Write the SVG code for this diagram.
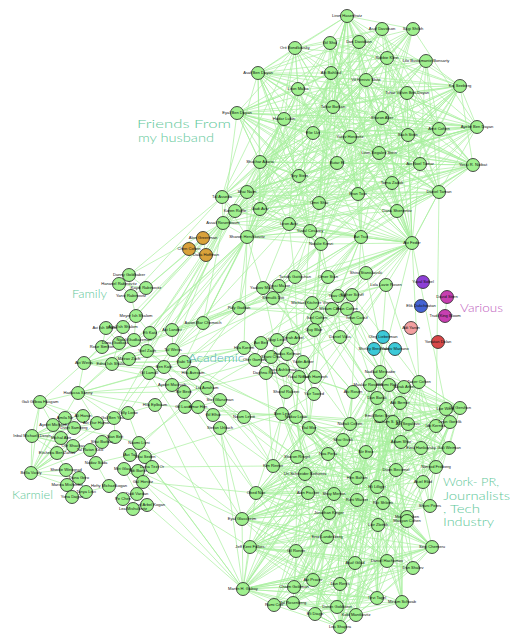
<svg xmlns="http://www.w3.org/2000/svg" width="518" height="640" viewBox="0 0 518 640">
<style>
.e{fill:none;stroke:#a8ef9e;stroke-width:.7;stroke-linecap:round}
.n circle{fill:#9ff08e;stroke:#222;stroke-width:.8}
.n text{font-family:"Liberation Sans",Arial,sans-serif;font-size:4.1px;text-anchor:middle;fill:#111}
.co circle{fill:#d9a23a}
.cp circle{fill:#8e3fd6}
.cm circle{fill:#c73fb0}
.cb circle{fill:#4464d4}
.ck circle{fill:#f2a0a0}
.cr circle{fill:#d84848}
.cc circle{fill:#3cc9d8}
.lbl{font-family:Lato,"DejaVu Sans",sans-serif;font-weight:300;font-size:12px;fill:#62c89a}
</style>
<rect width="518" height="640" fill="#fff"/>
<g id="connectors" class="e">
<path d="M347 16L333 107L358 194L330 43L382 118L412 243L387 58L408 135L299 176L331 73L379 153L319 203L407 93L392 183L223 223L237 113L397 211L321 244L439 129L260 162L382 29L313 133L247 192L359 42L420 164L235 211L426 61L439 192L289 224L366 80L361 237L247 237L298 89L337 163L413 29L284 119L222 197L295 48L477 127L260 209L258 73L350 137L310 231L460 86L473 165L347 16"/>
<path d="M347 16L258 73L284 119L420 164L260 162L223 223L330 43L460 86L477 127L439 192L247 192L321 244L387 58L333 107L350 137L361 237L235 211L382 29L331 73L382 118L473 165L337 163L289 224L359 42L407 93L408 135L358 194L222 197L247 237L426 61L237 113L379 153L412 243L260 209L413 29L366 80L439 129L392 183L299 176L310 231L295 48L298 89L313 133L397 211L319 203L347 16"/>
<path d="M347 16L477 127L235 211L407 93L412 243L295 48L420 164L321 244L382 118L222 197L366 80L397 211L330 43L350 137L289 224L237 113L299 176L258 73L439 192L382 29L408 135L260 209L298 89L260 162L387 58L473 165L247 237L439 129L319 203L460 86L361 237L359 42L379 153L310 231L284 119L247 192L331 73L358 194L413 29L313 133L223 223L333 107L337 163L426 61L392 183L347 16"/>
<path d="M347 16L359 42L258 73L407 93L284 119L408 135L420 164L358 194L260 162L222 197L223 223L247 237L330 43L426 61L460 86L237 113L477 127L379 153L439 192L412 243L247 192L260 209L321 244L413 29L387 58L366 80L333 107L439 129L350 137L392 183L361 237L299 176L235 211L310 231L382 29L295 48L331 73L298 89L382 118L313 133L473 165L397 211L337 163L319 203L289 224L347 16"/>
<path d="M347 16L460 86L350 137L337 163L247 237L366 80L313 133L260 162L321 244L331 73L408 135L412 243L310 231L258 73L477 127L361 237L289 224L426 61L439 129L397 211L223 223L387 58L382 118L358 194L260 209L295 48L284 119L439 192L235 211L359 42L237 113L392 183L319 203L330 43L333 107L473 165L222 197L413 29L298 89L420 164L247 192L382 29L407 93L379 153L299 176L347 16"/>
<path d="M347 16L413 29L359 42L387 58L258 73L366 80L407 93L333 107L284 119L439 129L408 135L350 137L420 164L392 183L358 194L361 237L260 162L299 176L222 197L235 211L223 223L310 231L247 237L382 29L330 43L295 48L426 61L331 73L460 86L298 89L237 113L382 118L477 127L313 133L379 153L473 165L439 192L397 211L412 243L337 163L247 192L319 203L260 209L289 224L321 244L347 16"/>
<path d="M347 16L382 118L299 176L387 58L379 153L223 223L407 93L397 211L382 29L439 129L247 192L426 61L420 164L289 224L298 89L361 237L413 29L477 127L222 197L258 73L473 165L310 231L333 107L412 243L330 43L408 135L319 203L331 73L392 183L321 244L237 113L260 162L359 42L313 133L235 211L366 80L439 192L247 237L284 119L337 163L295 48L350 137L260 209L460 86L358 194L347 16"/>
<path d="M237 113L295 48M237 113L331 73M237 113L298 89M237 113L333 107M237 113L313 133M237 113L350 137M237 113L337 163M237 113L299 176M237 113L319 203M237 113L358 194M237 113L379 153M237 113L382 118"/>
<path d="M477 127L407 93M477 127L366 80M477 127L382 118M477 127L408 135M477 127L350 137M477 127L379 153M477 127L392 183M477 127L358 194M477 127L337 163M477 127L313 133M477 127L397 211M477 127L333 107"/>
<path d="M460 86L387 58M460 86L366 80M460 86L407 93M460 86L382 118M460 86L408 135M460 86L379 153M460 86L350 137M460 86L333 107M460 86L392 183M460 86L420 164M460 86L439 129M460 86L358 194"/>
<path d="M473 165L407 93M473 165L382 118M473 165L408 135M473 165L379 153M473 165L392 183M473 165L358 194M473 165L397 211M473 165L361 237M473 165L350 137M473 165L366 80M473 165L337 163M473 165L319 203"/>
<path d="M412 243L392 183M412 243L358 194M412 243L397 211M412 243L379 153M412 243L337 163M412 243L319 203M412 243L361 237M412 243L350 137M412 243L382 118M412 243L408 135M412 243L420 164M412 243L439 192M412 243L299 176M412 243L310 231M412 243L321 244M412 243L289 224"/>
<path d="M347 16L295 48M347 16L331 73M347 16L298 89M347 16L333 107M347 16L366 80M347 16L407 93M347 16L387 58M347 16L313 133M347 16L350 137M347 16L382 118"/>
<path d="M258 73L298 89M258 73L331 73M258 73L333 107M258 73L313 133M258 73L284 119M258 73L350 137M258 73L299 176M258 73L260 162M258 73L366 80M258 73L330 43M258 73L295 48"/>
<path d="M439 192L439 129M439 192L420 164M439 192L408 135M439 192L392 183M439 192L379 153M439 192L397 211M439 192L358 194M439 192L361 237M439 192L350 137M439 192L382 118M439 192L407 93"/>
<path d="M247 237L260 209M247 237L289 224M247 237L319 203M247 237L299 176M247 237L260 162M247 237L247 192M247 237L310 231M247 237L321 244M247 237L358 194M247 237L337 163"/>
<path d="M260 162L284 119M260 162L313 133M260 162L299 176M260 162L298 89M260 162L350 137M260 162L333 107M260 162L337 163M260 162L247 192M260 162L260 209M260 162L319 203"/>
<path d="M412 243L366 273M412 243L386 285M412 243L328 277M412 243L295 277M412 243L312 303M412 243L352 295M412 243L347 309M412 243L317 318M412 243L340 337M412 243L244 348M412 243L239 308M412 243L203 323M412 243L173 350M412 243L172 330M412 243L446 409M412 243L419 382M412 243L380 372"/>
<path d="M361 237L295 277M361 237L328 277M361 237L366 273M361 237L279 286M361 237L312 303M361 237L338 296M361 237L332 309M361 237L293 338M361 237L261 343M361 237L184 362M361 237L350 424"/>
<path d="M321 244L295 277M321 244L328 277M321 244L263 288M321 244L279 286M321 244L273 298M321 244L312 303M321 244L314 330M321 244L309 428M310 231L295 277M310 231L328 277M310 231L273 298M310 231L296 417M289 224L263 288M289 224L295 277"/>
<path d="M247 237L263 288M247 237L239 308M247 237L203 323M247 237L172 330M247 237L173 350M247 237L150 333M247 237L244 348M247 237L128 413M247 237L78 393M223 223L203 323M223 223L172 330M223 223L146 288M223 223L129 275M223 223L136 316M223 223L173 350M223 223L114 418M223 223L84 363"/>
<path d="M235 211L172 330M235 211L150 333M235 211L147 351M260 209L203 323M260 209L184 362M260 209L239 308M222 197L129 275M222 197L131 296M247 192L136 316M247 192L172 330M439 192L436 426"/>
<path d="M134 340L247 237M150 333L223 223M147 351L247 237M173 350L289 224M184 362L321 244M146 288L235 211"/>
<path d="M295 277L239 308L357 318L271 357L315 377L386 285L352 295L293 338L255 360L353 392L273 298L317 318L244 348L299 377L366 273L338 296L340 337L303 362L314 394L279 286L347 309L261 343L283 370L328 277L312 303L314 330L287 354L286 392L263 288L332 309L277 340L266 373L295 277"/>
<path d="M295 277L279 286L352 295L314 330L244 348L266 373L314 394L386 285L312 303L317 318L277 340L303 362L315 377L328 277L273 298L332 309L340 337L271 357L283 370L353 392L263 288L338 296L357 318L261 343L255 360L286 392L366 273L239 308L347 309L293 338L287 354L299 377L295 277"/>
<path d="M312 303L380 372M312 303L370 385M332 309L389 385M347 309L377 398M317 318L380 416M357 318L380 372M357 318L404 387M340 337L370 385M340 337L377 398M314 330L350 424M352 295L419 382M338 296L400 403M303 362L309 428M299 377L296 417M315 377L350 424M314 394L282 414M314 394L309 428M286 392L282 414M266 373L273 466M271 357L297 457M287 354L305 474M283 370L328 454M386 285L380 372M386 285L419 382M366 273L389 385M353 392L400 403M353 392L380 416M353 392L350 424M353 392L343 440"/>
<path d="M129 275L119 284M129 275L146 288M119 284L131 296M146 288L131 296M129 275L131 296M119 284L146 288M131 296L136 316M136 316L123 327M136 316L150 333M106 328L123 327M106 328L102 347M123 327L119 343M123 327L134 340M150 333L134 340M150 333L147 351M119 343L134 340M134 340L147 351M102 347L119 343M102 347L84 363M119 343L112 364M112 364L129 359M129 359L147 351M84 363L112 364M136 316L134 340M106 328L119 343"/>
<path d="M172 330L173 350M173 350L184 362M173 350L164 367M184 362L193 373M164 367L149 373M149 373L172 385M193 373L207 388M172 385L184 392M207 388L184 392M184 392L185 407M185 407L198 407M198 407L213 415M155 405L185 407M155 405L172 385M184 362L164 367M172 330L150 333M173 350L147 351M203 323L172 330M203 323L173 350M164 367L147 351M220 400L207 388M220 400L198 407M220 400L244 417"/>
<path d="M84 363L147 351M84 363L173 350M84 363L184 362M84 363L164 367M84 363L193 373M84 363L244 348M84 363L239 308M84 363L203 323M84 363L255 360M84 363L207 388"/>
<path d="M78 393L84 363M78 393L112 364M78 393L149 373M78 393L172 385M78 393L184 392M78 393L155 405M78 393L128 413M78 393L114 418M78 393L97 423M78 393L244 348M40 402L78 393M40 402L65 418M40 402L53 425M40 402L32 436M40 402L83 416M40 402L84 363"/>
<path d="M184 362L244 348M193 373L261 343M207 388L255 360M184 392L266 373M172 385L271 357M193 373L239 308M173 350L239 308M172 330L239 308M203 323L239 308M203 323L263 288M172 330L263 288"/>
<path d="M173 350L273 466M147 351L297 457M164 367L256 493M149 373L242 519M184 362L282 414M193 373L296 417M134 340L305 474"/>
<path d="M31 473L32 436M31 473L53 425M31 473L61 438M31 473L65 418M31 473L74 428M31 473L73 446M31 473L57 453M31 473L90 450M31 473L83 416M31 473L97 423M31 473L114 418M31 473L66 470M31 473L67 485M31 473L79 478M31 473L78 393M31 473L40 402"/>
<path d="M32 436L53 425M32 436L61 438M32 436L65 418M32 436L74 428M32 436L73 446M32 436L57 453M32 436L83 416M32 436L97 423M32 436L90 450"/>
<path d="M65 418L83 416M83 416L97 423M97 423L114 418M114 418L128 413M53 425L74 428M61 438L73 446M74 428L115 437M115 437L102 442M102 442L90 450M73 446L90 450M90 450L96 463M57 453L66 470M96 463L130 455M139 443L130 455M130 455L145 457M139 443L145 457M124 469L138 471M138 471L152 467M124 469L143 482M138 471L143 482M152 467L143 482M66 470L79 478M79 478L67 485M67 485L72 497M86 492L72 497M79 478L86 492M86 492L109 486M109 486L123 499M137 494L123 499M137 494L147 505M123 499L133 509M147 505L133 509M137 494L133 509M96 463L109 486M115 437L139 443M128 413L139 443M114 418L115 437M145 457L152 467M124 469L137 494M143 482L137 494"/>
<path d="M128 413L155 405M114 418L149 373M139 443L185 407M145 457L282 414M152 467L273 466M143 482L256 493M139 443L242 519M124 469L250 547M138 471L242 519M130 455L244 348"/>
<path d="M400 403L380 416L436 467L282 414L334 494L432 547L315 614L380 372L393 422L396 470L296 417L329 513L387 561L337 607L370 385L408 424L357 478L309 428L242 519L413 568L356 615L389 385L436 426L377 487L297 457L378 525L313 580L340 627L404 387L450 422L423 482L328 454L407 521L340 584L377 598L419 382L350 424L357 500L273 466L327 537L294 587L402 602L377 398L401 442L383 503L305 474L250 547L243 589L343 440L446 409L421 448L430 506L256 493L296 551L274 605L366 452L460 408L449 448L407 517L308 493L355 563L293 603L400 403"/>
<path d="M400 403L419 382L393 422L401 442L357 478L430 506L297 457L308 493L407 521L432 547L294 587L337 607L343 440L389 385L460 408L450 422L436 467L357 500L296 417L305 474L242 519L296 551L313 580L293 603L377 598L380 372L377 398L408 424L421 448L377 487L407 517L328 454L334 494L327 537L387 561L243 589L356 615L366 452L404 387L380 416L350 424L396 470L383 503L309 428L256 493L378 525L355 563L340 584L315 614L402 602L370 385L446 409L436 426L449 448L423 482L282 414L273 466L329 513L250 547L413 568L274 605L340 627L400 403"/>
<path d="M400 403L450 422L407 517L378 525L274 605L389 385L421 448L309 428L250 547L337 607L377 398L396 470L273 466L432 547L377 598L380 416L423 482L308 493L313 580L366 452L436 426L430 506L242 519L243 589L370 385L401 442L296 417L327 537L315 614L419 382L436 467L328 454L355 563L340 627L460 408L377 487L256 493L413 568L343 440L408 424L383 503L329 513L294 587L380 372L350 424L282 414L407 521L293 603L404 387L449 448L297 457L296 551L356 615L446 409L357 478L305 474L387 561L402 602L393 422L357 500L334 494L340 584L400 403"/>
<path d="M400 403L389 385L377 398L380 416L436 426L401 442L436 467L377 487L383 503L282 414L297 457L305 474L334 494L378 525L250 547L432 547L313 580L243 589L315 614L340 627L343 440L380 372L404 387L446 409L393 422L450 422L421 448L396 470L423 482L430 506L296 417L328 454L256 493L329 513L407 521L296 551L387 561L340 584L274 605L337 607L377 598L366 452L370 385L419 382L460 408L408 424L350 424L449 448L357 478L357 500L407 517L309 428L273 466L308 493L242 519L327 537L355 563L413 568L294 587L293 603L356 615L402 602L400 403"/>
<path d="M400 403L446 409L350 424L377 487L296 417L308 493L250 547L340 584L356 615L380 372L460 408L401 442L423 482L309 428L334 494L296 551L294 587L340 627L370 385L380 416L421 448L357 500L297 457L329 513L355 563L243 589L377 598L389 385L393 422L449 448L383 503L328 454L242 519L432 547L274 605L402 602L404 387L408 424L436 467L430 506L273 466L378 525L387 561L293 603L343 440L419 382L436 426L396 470L407 517L305 474L407 521L413 568L315 614L366 452L377 398L450 422L357 478L282 414L256 493L327 537L313 580L337 607L400 403"/>
<path d="M400 403L449 448L256 493L243 589L377 398L357 500L407 521L340 627L436 426L309 428L387 561L380 372L436 467L308 493L274 605L446 409L383 503L327 537L377 598L450 422L297 457L413 568L370 385L396 470L334 494L293 603L460 408L430 506L250 547L402 602L350 424L328 454L313 580L389 385L357 478L329 513L315 614L380 416L407 517L296 551L343 440L401 442L273 466L340 584L404 387L377 487L242 519L337 607L393 422L282 414L355 563L366 452L421 448L305 474L294 587L419 382L423 482L378 525L356 615L408 424L296 417L432 547L400 403"/>
<path d="M243 589L296 551M243 589L313 580M243 589L294 587M243 589L274 605M243 589L293 603M243 589L340 584M243 589L327 537M243 589L355 563M243 589L329 513M243 589L308 493M243 589L305 474M243 589L297 457M243 589L357 500M243 589L357 478M243 589L387 561M243 589L377 598M243 589L334 494M243 589L152 467M243 589L145 457M243 589L143 482M243 589L155 405M243 589L220 428M243 589L147 505"/>
<path d="M250 547L296 551M250 547L327 537M250 547L313 580M250 547L329 513M250 547L308 493M250 547L305 474M250 547L334 494M250 547L328 454M250 547L357 478M250 547L357 500M250 547L355 563M250 547L387 561M250 547L383 503"/>
<path d="M242 519L308 493M242 519L305 474M242 519L334 494M242 519L329 513M242 519L327 537M242 519L328 454M242 519L297 457M242 519L357 478M242 519L357 500M242 519L377 487M242 519L350 424"/>
<path d="M256 493L297 457M256 493L328 454M256 493L305 474M256 493L308 493M256 493L334 494M256 493L357 478M256 493L343 440M256 493L366 452M256 493L350 424M256 493L309 428M273 466L296 417M273 466L309 428M273 466L328 454M273 466L305 474M273 466L308 493M273 466L350 424M273 466L343 440M273 466L357 478"/>
<path d="M432 547L407 521M432 547L378 525M432 547L407 517M432 547L383 503M432 547L377 487M432 547L357 500M432 547L357 478M432 547L355 563M432 547L387 561M432 547L413 568M432 547L334 494"/>
<path d="M340 627L315 614M340 627L337 607M340 627L356 615M340 627L340 584M340 627L313 580M340 627L293 603M340 627L355 563M340 627L387 561M340 627L377 598"/>
<path d="M460 408L400 403M460 408L404 387M460 408L419 382M460 408L393 422M460 408L408 424M460 408L401 442M460 408L380 416M460 408L377 398M460 408L366 452M449 448L401 442M449 448L393 422M449 448L408 424M449 448L396 470M449 448L377 487M449 448L366 452M449 448L357 478M449 448L380 416"/>
<path d="M244 417L282 414M244 417L273 466M244 417L297 457M220 428L256 493M220 428L242 519M220 428L273 466M213 415L282 414M185 407L296 417M198 407L309 428"/>
<path d="M447 297L445 316M383 337L374 349M383 337L395 349M374 349L395 349M203 238L189 249M189 249L206 255M203 238L206 255"/>
</g>
<g id="nodes">
<g id="t1" class="n" transform="translate(347 16)"><circle r="6.5"/><text y="1.4">Liron Hasenfratz</text></g>
<g id="t2" class="n" transform="translate(382 29)"><circle r="6.5"/><text y="1.4">Asaf Davidson</text></g>
<g id="t3" class="n" transform="translate(413 29)"><circle r="6.5"/><text y="1.4">Sagi Shiloh</text></g>
<g id="t4" class="n" transform="translate(330 43)"><circle r="6.5"/><text y="1.4">Gil Shai</text></g>
<g id="t5" class="n" transform="translate(359 42)"><circle r="6.5"/><text y="1.4">Dan Davidson</text></g>
<g id="t6" class="n" transform="translate(295 48)"><circle r="6.5"/><text y="1.4">Orit Bondkovsky</text></g>
<g id="t7" class="n" transform="translate(387 58)"><circle r="6.5"/><text y="1.4">Robbie Klein</text></g>
<g id="t8" class="n" transform="translate(426 61)"><circle r="6.5"/><text y="1.4">Lilo Bustamante Bonsarty</text></g>
<g id="t9" class="n" transform="translate(258 73)"><circle r="6.5"/><text y="1.4">Asaf Ben Dayan</text></g>
<g id="t10" class="n" transform="translate(331 73)"><circle r="6.5"/><text y="1.4">Alti Bahloul</text></g>
<g id="t11" class="n" transform="translate(366 80)"><circle r="6.5"/><text y="1.4">Vil Keniviv Shito</text></g>
<g id="t12" class="n" transform="translate(460 86)"><circle r="6.5"/><text y="1.4">Kaj Seeberg</text></g>
<g id="t13" class="n" transform="translate(407 93)"><circle r="6.5"/><text y="1.4">Tuhar Volvin Ben-Dayan</text></g>
<g id="t14" class="n" transform="translate(298 89)"><circle r="6.5"/><text y="1.4">Liron Malka</text></g>
<g id="t15" class="n" transform="translate(333 107)"><circle r="6.5"/><text y="1.4">Tohar Barkan</text></g>
<g id="t16" class="n" transform="translate(237 113)"><circle r="6.5"/><text y="1.4">Eyal Ben Dayan</text></g>
<g id="t17" class="n" transform="translate(284 119)"><circle r="6.5"/><text y="1.4">Hadar Lubin</text></g>
<g id="t18" class="n" transform="translate(382 118)"><circle r="6.5"/><text y="1.4">Sharon Alter</text></g>
<g id="t19" class="n" transform="translate(439 129)"><circle r="6.5"/><text y="1.4">Amit Cohen</text></g>
<g id="t20" class="n" transform="translate(477 127)"><circle r="6.5"/><text y="1.4">Ayelet Ben Dayan</text></g>
<g id="t21" class="n" transform="translate(408 135)"><circle r="6.5"/><text y="1.4">Bach Stein</text></g>
<g id="t22" class="n" transform="translate(313 133)"><circle r="6.5"/><text y="1.4">Elie Uzi</text></g>
<g id="t23" class="n" transform="translate(350 137)"><circle r="6.5"/><text y="1.4">Yaniv Horowitz</text></g>
<g id="t24" class="n" transform="translate(379 153)"><circle r="6.5"/><text y="1.4">Liron Segalev Stein</text></g>
<g id="t25" class="n" transform="translate(420 164)"><circle r="6.5"/><text y="1.4">Avi Noel Tamar</text></g>
<g id="t26" class="n" transform="translate(473 165)"><circle r="6.5"/><text y="1.4">Yossi R. Natbat</text></g>
<g id="t27" class="n" transform="translate(392 183)"><circle r="6.5"/><text y="1.4">Tama Zadok</text></g>
<g id="t28" class="n" transform="translate(439 192)"><circle r="6.5"/><text y="1.4">Daniel Taman</text></g>
<g id="t29" class="n" transform="translate(358 194)"><circle r="6.5"/><text y="1.4">Eran Tour</text></g>
<g id="t30" class="n" transform="translate(397 211)"><circle r="6.5"/><text y="1.4">Dana Shenertov</text></g>
<g id="t31" class="n" transform="translate(361 237)"><circle r="6.5"/><text y="1.4">Avi Tsur</text></g>
<g id="t32" class="n" transform="translate(412 243)"><circle r="6.5"/><text y="1.4">Avi Feder</text></g>
<g id="t33" class="n" transform="translate(260 162)"><circle r="6.5"/><text y="1.4">Shachar Azaria</text></g>
<g id="t34" class="n" transform="translate(337 163)"><circle r="6.5"/><text y="1.4">Butar El</text></g>
<g id="t35" class="n" transform="translate(299 176)"><circle r="6.5"/><text y="1.4">Tory Stein</text></g>
<g id="t36" class="n" transform="translate(247 192)"><circle r="6.5"/><text y="1.4">Shai Naim</text></g>
<g id="t37" class="n" transform="translate(222 197)"><circle r="6.5"/><text y="1.4">Tal Asseda</text></g>
<g id="t38" class="n" transform="translate(319 203)"><circle r="6.5"/><text y="1.4">Omri Shai</text></g>
<g id="t39" class="n" transform="translate(235 211)"><circle r="6.5"/><text y="1.4">Karen Ruffle</text></g>
<g id="t40" class="n" transform="translate(260 209)"><circle r="6.5"/><text y="1.4">Gadi Aviv</text></g>
<g id="t41" class="n" transform="translate(223 223)"><circle r="6.5"/><text y="1.4">Assaf Rosenbaum</text></g>
<g id="t42" class="n" transform="translate(289 224)"><circle r="6.5"/><text y="1.4">Liron Aviv</text></g>
<g id="t43" class="n" transform="translate(310 231)"><circle r="6.5"/><text y="1.4">Yuval Cesarey</text></g>
<g id="t44" class="n" transform="translate(321 244)"><circle r="6.5"/><text y="1.4">Natalie Kenzi</text></g>
<g id="t45" class="n" transform="translate(247 237)"><circle r="6.5"/><text y="1.4">Sharon Hershkovitz</text></g>
<g id="o1" class="n co" transform="translate(203 238)"><circle r="6.5"/><text y="1.4">Alon Greenman</text></g>
<g id="o2" class="n co" transform="translate(189 249)"><circle r="6.5"/><text y="1.4">Chen Cohen</text></g>
<g id="o3" class="n co" transform="translate(206 255)"><circle r="6.5"/><text y="1.4">Dalia Hoffman</text></g>
<g id="m1" class="n" transform="translate(295 277)"><circle r="6.5"/><text y="1.4">Tandis Gattochan</text></g>
<g id="m2" class="n" transform="translate(328 277)"><circle r="6.5"/><text y="1.4">Omer Stan</text></g>
<g id="m3" class="n" transform="translate(366 273)"><circle r="6.5"/><text y="1.4">Shira Stanislavski</text></g>
<g id="m4" class="n" transform="translate(386 285)"><circle r="6.5"/><text y="1.4">Lola Lavie Rosen</text></g>
<g id="m5" class="n" transform="translate(263 288)"><circle r="6.5"/><text y="1.4">Yaakov Mazor</text></g>
<g id="m6" class="n" transform="translate(279 286)"><circle r="6.5"/><text y="1.4">Yossi Mazor</text></g>
<g id="m7" class="n" transform="translate(273 298)"><circle r="6.5"/><text y="1.4">Shmulik Dot</text></g>
<g id="m8" class="n" transform="translate(239 308)"><circle r="6.5"/><text y="1.4">Poly Gadran</text></g>
<g id="m9" class="n" transform="translate(312 303)"><circle r="6.5"/><text y="1.4">Michael Kitchner Visgo</text></g>
<g id="m10" class="n" transform="translate(338 296)"><circle r="6.5"/><text y="1.4">Yoav Oren</text></g>
<g id="m11" class="n" transform="translate(352 295)"><circle r="6.5"/><text y="1.4">Esther Schiff</text></g>
<g id="m12" class="n" transform="translate(332 309)"><circle r="6.5"/><text y="1.4">Miriam Cohen</text></g>
<g id="m13" class="n" transform="translate(347 309)"><circle r="6.5"/><text y="1.4">Etan Cohen</text></g>
<g id="m14" class="n" transform="translate(317 318)"><circle r="6.5"/><text y="1.4">Itzel Cohen</text></g>
<g id="m15" class="n" transform="translate(357 318)"><circle r="6.5"/><text y="1.4">Itzan Cassif</text></g>
<g id="m16" class="n" transform="translate(314 330)"><circle r="6.5"/><text y="1.4">Guy Blair</text></g>
<g id="m17" class="n" transform="translate(340 337)"><circle r="6.5"/><text y="1.4">Daniel Vaks</text></g>
<g id="m18" class="n" transform="translate(293 338)"><circle r="6.5"/><text y="1.4">Kerah Arbel</text></g>
<g id="m19" class="n" transform="translate(277 340)"><circle r="6.5"/><text y="1.4">Sagi Leon</text></g>
<g id="m20" class="n" transform="translate(261 343)"><circle r="6.5"/><text y="1.4">Avi Beit</text></g>
<g id="m21" class="n" transform="translate(244 348)"><circle r="6.5"/><text y="1.4">Hila Korem</text></g>
<g id="m22" class="n" transform="translate(271 357)"><circle r="6.5"/><text y="1.4">Shani Chai</text></g>
<g id="m23" class="n" transform="translate(287 354)"><circle r="6.5"/><text y="1.4">Hadas Kelman</text></g>
<g id="m24" class="n" transform="translate(303 362)"><circle r="6.5"/><text y="1.4">Yadin Arber</text></g>
<g id="m25" class="n" transform="translate(255 360)"><circle r="6.5"/><text y="1.4">Ofer Gamlieli</text></g>
<g id="m26" class="n" transform="translate(266 373)"><circle r="6.5"/><text y="1.4">Daphna Rabin</text></g>
<g id="m27" class="n" transform="translate(283 370)"><circle r="6.5"/><text y="1.4">Sara Ashkenazi</text></g>
<g id="m28" class="n" transform="translate(299 377)"><circle r="6.5"/><text y="1.4">Yuval Nissan</text></g>
<g id="m29" class="n" transform="translate(315 377)"><circle r="6.5"/><text y="1.4">Ruth Hamzeh</text></g>
<g id="m30" class="n" transform="translate(286 392)"><circle r="6.5"/><text y="1.4">Sharaf Rabeei</text></g>
<g id="m31" class="n" transform="translate(314 394)"><circle r="6.5"/><text y="1.4">Yair Tawed</text></g>
<g id="m32" class="n" transform="translate(353 392)"><circle r="6.5"/><text y="1.4">Asi Rosen</text></g>
<g id="c1" class="n cp" transform="translate(423 282)"><circle r="6.5"/><text y="1.4">Yuval Sobel</text></g>
<g id="c2" class="n cm" transform="translate(447 297)"><circle r="6.5"/><text y="1.4">David Stern</text></g>
<g id="c3" class="n cb" transform="translate(421 306)"><circle r="6.5"/><text y="1.4">Elik Dukcheatan</text></g>
<g id="c4" class="n cm" transform="translate(445 316)"><circle r="6.5"/><text y="1.4">Trudi King Bloom</text></g>
<g id="c5" class="n ck" transform="translate(411 328)"><circle r="6.5"/><text y="1.4">Adi Yaron</text></g>
<g id="c6" class="n cr" transform="translate(438 342)"><circle r="6.5"/><text y="1.4">Yonatan Dolan</text></g>
<g id="c7" class="n cc" transform="translate(383 337)"><circle r="6.5"/><text y="1.4">Oleg Lieberman</text></g>
<g id="c8" class="n cc" transform="translate(374 349)"><circle r="6.5"/><text y="1.4">Shirley Breshtain</text></g>
<g id="c9" class="n cc" transform="translate(395 349)"><circle r="6.5"/><text y="1.4">Yakov Marrano</text></g>
<g id="f1" class="n" transform="translate(129 275)"><circle r="6.5"/><text y="1.4">Danny Goldhaber</text></g>
<g id="f2" class="n" transform="translate(119 284)"><circle r="6.5"/><text y="1.4">Hananel Rabinovitz</text></g>
<g id="f3" class="n" transform="translate(146 288)"><circle r="6.5"/><text y="1.4">Kaydi Rabinovitz</text></g>
<g id="f4" class="n" transform="translate(131 296)"><circle r="6.5"/><text y="1.4">Yaniv Rabinovitz</text></g>
<g id="f5" class="n" transform="translate(136 316)"><circle r="6.5"/><text y="1.4">Meyer Ish Shalom</text></g>
<g id="f6" class="n" transform="translate(106 328)"><circle r="6.5"/><text y="1.4">Avi Ish Shalom</text></g>
<g id="f7" class="n" transform="translate(123 327)"><circle r="6.5"/><text y="1.4">Ayal Ish Shalom</text></g>
<g id="f8" class="n" transform="translate(150 333)"><circle r="6.5"/><text y="1.4">Eli Katz</text></g>
<g id="f9" class="n" transform="translate(172 330)"><circle r="6.5"/><text y="1.4">Avi Lander</text></g>
<g id="f10" class="n" transform="translate(203 323)"><circle r="6.5"/><text y="1.4">Aaron Bar Chemoch</text></g>
<g id="f11" class="n" transform="translate(102 347)"><circle r="6.5"/><text y="1.4">Rose Simhon</text></g>
<g id="f12" class="n" transform="translate(119 343)"><circle r="6.5"/><text y="1.4">Dana Gudkarzman</text></g>
<g id="f13" class="n" transform="translate(134 340)"><circle r="6.5"/><text y="1.4">Natali Gudkarzman</text></g>
<g id="f14" class="n" transform="translate(147 351)"><circle r="6.5"/><text y="1.4">Yoel Zach</text></g>
<g id="f15" class="n" transform="translate(173 350)"><circle r="6.5"/><text y="1.4">Tal Weiss</text></g>
<g id="f16" class="n" transform="translate(84 363)"><circle r="6.5"/><text y="1.4">Avi Weiss</text></g>
<g id="f17" class="n" transform="translate(112 364)"><circle r="6.5"/><text y="1.4">Edna Ish Shalom</text></g>
<g id="f18" class="n" transform="translate(129 359)"><circle r="6.5"/><text y="1.4">Meirav Zach</text></g>
<g id="f19" class="n" transform="translate(184 362)"><circle r="6.5"/><text y="1.4">Gabi Tal</text></g>
<g id="f20" class="n" transform="translate(149 373)"><circle r="6.5"/><text y="1.4">Gil Lamali</text></g>
<g id="f21" class="n" transform="translate(164 367)"><circle r="6.5"/><text y="1.4">Ben Katz</text></g>
<g id="f22" class="n" transform="translate(193 373)"><circle r="6.5"/><text y="1.4">Hila Aviroam</text></g>
<g id="f23" class="n" transform="translate(172 385)"><circle r="6.5"/><text y="1.4">Ayelet Mashiah</text></g>
<g id="f24" class="n" transform="translate(207 388)"><circle r="6.5"/><text y="1.4">Lia Avraham</text></g>
<g id="f25" class="n" transform="translate(184 392)"><circle r="6.5"/><text y="1.4">Nir Biron</text></g>
<g id="f26" class="n" transform="translate(78 393)"><circle r="6.5"/><text y="1.4">Hadassa Sanny</text></g>
<g id="f27" class="n" transform="translate(40 402)"><circle r="6.5"/><text y="1.4">Gali Gilboa Hasgam</text></g>
<g id="f28" class="n" transform="translate(155 405)"><circle r="6.5"/><text y="1.4">Hila Eplbaum</text></g>
<g id="f29" class="n" transform="translate(185 407)"><circle r="6.5"/><text y="1.4">Gil Laviner</text></g>
<g id="f30" class="n" transform="translate(198 407)"><circle r="6.5"/><text y="1.4">Amar Hen</text></g>
<g id="f31" class="n" transform="translate(213 415)"><circle r="6.5"/><text y="1.4">Gil Elhai</text></g>
<g id="f32" class="n" transform="translate(244 417)"><circle r="6.5"/><text y="1.4">Noam Levitt</text></g>
<g id="f33" class="n" transform="translate(220 428)"><circle r="6.5"/><text y="1.4">Stefan Urbach</text></g>
<g id="f34" class="n" transform="translate(220 400)"><circle r="6.5"/><text y="1.4">Stel Glanzman</text></g>
<g id="k1" class="n" transform="translate(65 418)"><circle r="6.5"/><text y="1.4">Amila Nir</text></g>
<g id="k2" class="n" transform="translate(83 416)"><circle r="6.5"/><text y="1.4">Ali Haran</text></g>
<g id="k3" class="n" transform="translate(97 423)"><circle r="6.5"/><text y="1.4">Avi Gur Haman</text></g>
<g id="k4" class="n" transform="translate(114 418)"><circle r="6.5"/><text y="1.4">Gal Ben Yosef</text></g>
<g id="k5" class="n" transform="translate(128 413)"><circle r="6.5"/><text y="1.4">Yolly Loew</text></g>
<g id="k6" class="n" transform="translate(53 425)"><circle r="6.5"/><text y="1.4">Ayelet Michaeli</text></g>
<g id="k7" class="n" transform="translate(32 436)"><circle r="6.5"/><text y="1.4">Inbal Michaeli Deron</text></g>
<g id="k8" class="n" transform="translate(61 438)"><circle r="6.5"/><text y="1.4">Michal Abir</text></g>
<g id="k9" class="n" transform="translate(74 428)"><circle r="6.5"/><text y="1.4">Dvori Samberg</text></g>
<g id="k10" class="n" transform="translate(115 437)"><circle r="6.5"/><text y="1.4">Idan Beit</text></g>
<g id="k11" class="n" transform="translate(102 442)"><circle r="6.5"/><text y="1.4">Shai Barbas</text></g>
<g id="k12" class="n" transform="translate(73 446)"><circle r="6.5"/><text y="1.4">Ofir Shachar</text></g>
<g id="k13" class="n" transform="translate(90 450)"><circle r="6.5"/><text y="1.4">Tal Ratan Kiko</text></g>
<g id="k14" class="n" transform="translate(57 453)"><circle r="6.5"/><text y="1.4">Elisheva Ben Zahav</text></g>
<g id="k15" class="n" transform="translate(96 463)"><circle r="6.5"/><text y="1.4">Nadav Suda</text></g>
<g id="k16" class="n" transform="translate(139 443)"><circle r="6.5"/><text y="1.4">Naomi Livni</text></g>
<g id="k17" class="n" transform="translate(130 455)"><circle r="6.5"/><text y="1.4">Avi Tal</text></g>
<g id="k18" class="n" transform="translate(145 457)"><circle r="6.5"/><text y="1.4">Shai Seden</text></g>
<g id="k19" class="n" transform="translate(31 473)"><circle r="6.5"/><text y="1.4">Bella Vasily</text></g>
<g id="k20" class="n" transform="translate(66 470)"><circle r="6.5"/><text y="1.4">Sherlie Winograd</text></g>
<g id="k21" class="n" transform="translate(124 469)"><circle r="6.5"/><text y="1.4">Miri Glaser</text></g>
<g id="k22" class="n" transform="translate(138 471)"><circle r="6.5"/><text y="1.4">Edi Bartel</text></g>
<g id="k23" class="n" transform="translate(152 467)"><circle r="6.5"/><text y="1.4">Dana Tirzi Or</text></g>
<g id="k24" class="n" transform="translate(79 478)"><circle r="6.5"/><text y="1.4">Dana Gero</text></g>
<g id="k25" class="n" transform="translate(143 482)"><circle r="6.5"/><text y="1.4">Gal Horvitz</text></g>
<g id="k26" class="n" transform="translate(67 485)"><circle r="6.5"/><text y="1.4">Marina Mishenko</text></g>
<g id="k27" class="n" transform="translate(86 492)"><circle r="6.5"/><text y="1.4">Tanya Levi</text></g>
<g id="k28" class="n" transform="translate(109 486)"><circle r="6.5"/><text y="1.4">Hefty Michaelkogan</text></g>
<g id="k29" class="n" transform="translate(72 497)"><circle r="6.5"/><text y="1.4">Yona Dagan</text></g>
<g id="k30" class="n" transform="translate(137 494)"><circle r="6.5"/><text y="1.4">Dudi Vardan</text></g>
<g id="k31" class="n" transform="translate(123 499)"><circle r="6.5"/><text y="1.4">Pe Chen</text></g>
<g id="k32" class="n" transform="translate(147 505)"><circle r="6.5"/><text y="1.4">Rachel Arbel Kogan</text></g>
<g id="k33" class="n" transform="translate(133 509)"><circle r="6.5"/><text y="1.4">Lea Mishulovitz</text></g>
<g id="b1" class="n" transform="translate(400 403)"><circle r="6.5"/><text y="1.4">Adi Berner</text></g>
<g id="b2" class="n" transform="translate(380 372)"><circle r="6.5"/><text y="1.4">Nadlad Messabe</text></g>
<g id="b3" class="n" transform="translate(370 385)"><circle r="6.5"/><text y="1.4">Maskar Rosenthal</text></g>
<g id="b4" class="n" transform="translate(389 385)"><circle r="6.5"/><text y="1.4">Shlomi Rosen</text></g>
<g id="b5" class="n" transform="translate(404 387)"><circle r="6.5"/><text y="1.4">Barak Arbel</text></g>
<g id="b6" class="n" transform="translate(419 382)"><circle r="6.5"/><text y="1.4">Taner Cohen</text></g>
<g id="b7" class="n" transform="translate(377 398)"><circle r="6.5"/><text y="1.4">Dan Barak</text></g>
<g id="b8" class="n" transform="translate(446 409)"><circle r="6.5"/><text y="1.4">Lior Weiss</text></g>
<g id="b9" class="n" transform="translate(460 408)"><circle r="6.5"/><text y="1.4">Gil Gershon</text></g>
<g id="b10" class="n" transform="translate(380 416)"><circle r="6.5"/><text y="1.4">Emil Betzi Segal</text></g>
<g id="b11" class="n" transform="translate(393 422)"><circle r="6.5"/><text y="1.4">Nachum S. Kinsmith</text></g>
<g id="b12" class="n" transform="translate(408 424)"><circle r="6.5"/><text y="1.4">Avi Segalovic</text></g>
<g id="b13" class="n" transform="translate(436 426)"><circle r="6.5"/><text y="1.4">Ido Kerneal</text></g>
<g id="b14" class="n" transform="translate(450 422)"><circle r="6.5"/><text y="1.4">Liran Gorelik</text></g>
<g id="b15" class="n" transform="translate(350 424)"><circle r="6.5"/><text y="1.4">Naftali Cohen</text></g>
<g id="b16" class="n" transform="translate(401 442)"><circle r="6.5"/><text y="1.4">Adam Shor</text></g>
<g id="b17" class="n" transform="translate(421 448)"><circle r="6.5"/><text y="1.4">Ezra Hankovsky</text></g>
<g id="b18" class="n" transform="translate(449 448)"><circle r="6.5"/><text y="1.4">Gali Weiman</text></g>
<g id="b19" class="n" transform="translate(436 467)"><circle r="6.5"/><text y="1.4">Nimrod Fridberg</text></g>
<g id="b20" class="n" transform="translate(396 470)"><circle r="6.5"/><text y="1.4">Duan Becomel</text></g>
<g id="b21" class="n" transform="translate(357 478)"><circle r="6.5"/><text y="1.4">Hen Bahon</text></g>
<g id="b22" class="n" transform="translate(377 487)"><circle r="6.5"/><text y="1.4">Eli Lilliger</text></g>
<g id="b23" class="n" transform="translate(423 482)"><circle r="6.5"/><text y="1.4">Asiel Elad</text></g>
<g id="b24" class="n" transform="translate(357 500)"><circle r="6.5"/><text y="1.4">Roni Wainer</text></g>
<g id="b25" class="n" transform="translate(383 503)"><circle r="6.5"/><text y="1.4">Roi Shlomi</text></g>
<g id="b26" class="n" transform="translate(430 506)"><circle r="6.5"/><text y="1.4">Shani Peres</text></g>
<g id="b27" class="n" transform="translate(407 517)"><circle r="6.5"/><text y="1.4">Meital Cohen</text></g>
<g id="b28" class="n" transform="translate(282 414)"><circle r="6.5"/><text y="1.4">Ben Levi</text></g>
<g id="b29" class="n" transform="translate(296 417)"><circle r="6.5"/><text y="1.4">Nadav Lowe</text></g>
<g id="b30" class="n" transform="translate(309 428)"><circle r="6.5"/><text y="1.4">Gal Mor</text></g>
<g id="b31" class="n" transform="translate(297 457)"><circle r="6.5"/><text y="1.4">Sharon Ringel</text></g>
<g id="b32" class="n" transform="translate(328 454)"><circle r="6.5"/><text y="1.4">Noa Perla</text></g>
<g id="b33" class="n" transform="translate(273 466)"><circle r="6.5"/><text y="1.4">Kim Rinner</text></g>
<g id="b34" class="n" transform="translate(305 474)"><circle r="6.5"/><text y="1.4">Uri Schneider Bethenta</text></g>
<g id="b35" class="n" transform="translate(256 493)"><circle r="6.5"/><text y="1.4">Obed Nae</text></g>
<g id="b36" class="n" transform="translate(308 493)"><circle r="6.5"/><text y="1.4">Alon Fischer</text></g>
<g id="b37" class="n" transform="translate(334 494)"><circle r="6.5"/><text y="1.4">Shay Merton</text></g>
<g id="b38" class="n" transform="translate(329 513)"><circle r="6.5"/><text y="1.4">Jonathan Kinger</text></g>
<g id="b39" class="n" transform="translate(242 519)"><circle r="6.5"/><text y="1.4">Eyal Glassheim</text></g>
<g id="b40" class="n" transform="translate(378 525)"><circle r="6.5"/><text y="1.4">Lior Zlotnik</text></g>
<g id="b41" class="n" transform="translate(407 521)"><circle r="6.5"/><text y="1.4">Maayan Cohen</text></g>
<g id="b42" class="n" transform="translate(327 537)"><circle r="6.5"/><text y="1.4">Erez Landesberg</text></g>
<g id="b43" class="n" transform="translate(250 547)"><circle r="6.5"/><text y="1.4">Jeff Kent Folkes</text></g>
<g id="b44" class="n" transform="translate(296 551)"><circle r="6.5"/><text y="1.4">Gil Ronen</text></g>
<g id="b45" class="n" transform="translate(355 563)"><circle r="6.5"/><text y="1.4">Asaf Gilad</text></g>
<g id="b46" class="n" transform="translate(432 547)"><circle r="6.5"/><text y="1.4">Segi Chemeru</text></g>
<g id="b47" class="n" transform="translate(387 561)"><circle r="6.5"/><text y="1.4">Daniel Hachamov</text></g>
<g id="b48" class="n" transform="translate(413 568)"><circle r="6.5"/><text y="1.4">Dan Shalev</text></g>
<g id="b49" class="n" transform="translate(313 580)"><circle r="6.5"/><text y="1.4">Avi Praver</text></g>
<g id="b50" class="n" transform="translate(340 584)"><circle r="6.5"/><text y="1.4">Dan Renis</text></g>
<g id="b51" class="n" transform="translate(294 587)"><circle r="6.5"/><text y="1.4">Chaim Goldman</text></g>
<g id="b52" class="n" transform="translate(243 589)"><circle r="6.5"/><text y="1.4">Martin H. Gabay</text></g>
<g id="b53" class="n" transform="translate(274 605)"><circle r="6.5"/><text y="1.4">Rami Ceft</text></g>
<g id="b54" class="n" transform="translate(293 603)"><circle r="6.5"/><text y="1.4">Tal Rosenberg</text></g>
<g id="b55" class="n" transform="translate(315 614)"><circle r="6.5"/><text y="1.4">Eli Diago</text></g>
<g id="b56" class="n" transform="translate(337 607)"><circle r="6.5"/><text y="1.4">Doron Goldstein</text></g>
<g id="b57" class="n" transform="translate(356 615)"><circle r="6.5"/><text y="1.4">Kobi Mantkovitz</text></g>
<g id="b58" class="n" transform="translate(340 627)"><circle r="6.5"/><text y="1.4">Lea Shapira</text></g>
<g id="b59" class="n" transform="translate(377 598)"><circle r="6.5"/><text y="1.4">Tzvi Tagel</text></g>
<g id="b60" class="n" transform="translate(402 602)"><circle r="6.5"/><text y="1.4">Miriam Schwab</text></g>
<g id="b61" class="n" transform="translate(343 440)"><circle r="6.5"/><text y="1.4">Shai Givoli</text></g>
<g id="b62" class="n" transform="translate(366 452)"><circle r="6.5"/><text y="1.4">Nir Erez</text></g>
</g>
<g id="cluster-labels">
<text class="lbl" x="137" y="128" textLength="94" lengthAdjust="spacingAndGlyphs">Friends From</text>
<text class="lbl" x="138" y="142" textLength="76" lengthAdjust="spacingAndGlyphs">my husband</text>
<text class="lbl" x="72" y="298" textLength="35" lengthAdjust="spacingAndGlyphs">Family</text>
<text class="lbl" x="188" y="362" textLength="56" lengthAdjust="spacingAndGlyphs" style="fill:#4db0b8">Academic</text>
<text class="lbl" x="12" y="499" textLength="41" lengthAdjust="spacingAndGlyphs">Karmiel</text>
<text class="lbl" x="460" y="312" textLength="43" lengthAdjust="spacingAndGlyphs" style="fill:#c062c0">Various</text>
<text class="lbl" x="443" y="486" textLength="56" lengthAdjust="spacingAndGlyphs">Work- PR,</text>
<text class="lbl" x="443" y="500" textLength="67" lengthAdjust="spacingAndGlyphs">Journalists</text>
<text class="lbl" x="443" y="513" textLength="37" lengthAdjust="spacingAndGlyphs">, Tech</text>
<text class="lbl" x="443" y="526" textLength="51" lengthAdjust="spacingAndGlyphs">Industry</text>
</g>
</svg>
